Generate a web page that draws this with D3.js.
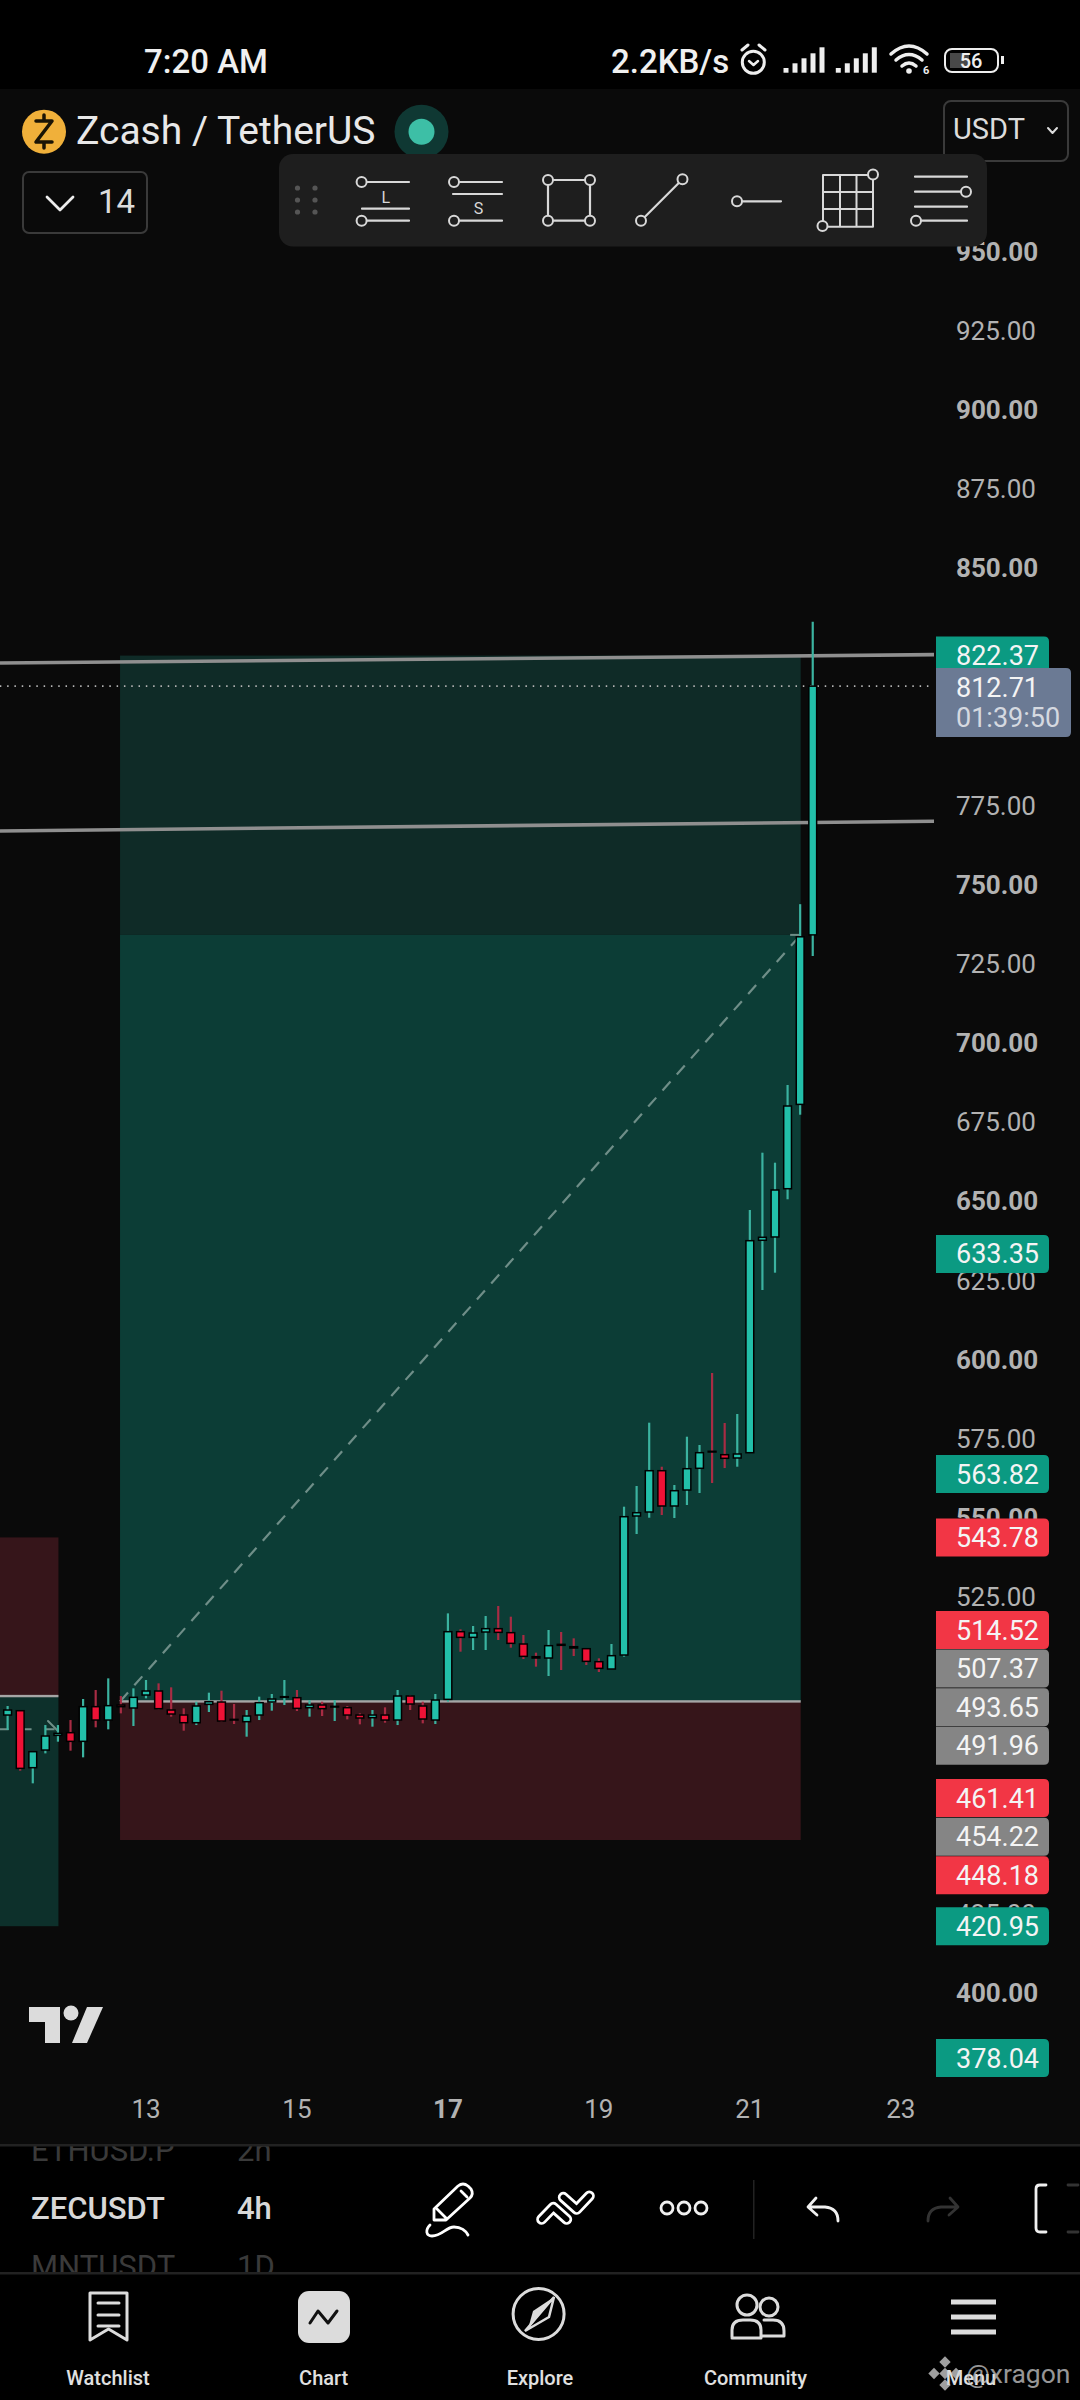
<!DOCTYPE html>
<html>
<head>
<meta charset="utf-8">
<script src="https://cdn.jsdelivr.net/npm/d3@7"></script>
<style>
  html, body { margin: 0; padding: 0; background: #000; }
  svg { display: block; }
  text { font-family: Roboto, sans-serif; }
</style>
</head>
<body>
<div id="chart"></div>
<script>
// 4h candles of ZECUSDT, first one is 11 candles before the 13th
var firstDay = 13 - 11 / 6;
var candleHours = 4;

var opens = [487.66,489.03,471.03,476.6,481.24,482.08,479.35,490.3,486.08,490.82,489.88,
  493.98,495.25,489.24,487.66,485.24,491.03,491.77,486.29,485.56,487.66,491.77,493.25,493.14,
  489.98,490.82,490.19,489.98,487.66,486.82,487.66,486.08,493.67,490.51,486.08,
  492.61,513.99,512.2,513.89,514.94,513.68,510.1,506.09,505.67,509.99,509.25,508.62,504.51,502.2,
  506.62,550.54,551.8,564.85,553.7,558.75,565.61,570.98,569.91,568.87,570.54,637.65,638.69,653.94,680.58,734.13];
var highs = [490.51,489.24,476.08,484.5,484.5,486.08,492.72,495.56,499.25,493.67,496.09,
  498.72,497.67,496.41,489.77,491.88,494.72,495.35,491.14,489.24,493.46,494.3,498.72,495.56,
  492.4,491.88,492.4,490.51,488.19,489.24,490.09,495.56,493.98,491.88,494.3,
  519.78,514.73,515.78,518.94,522.1,518.73,512.94,507.36,514.52,513.89,511.89,508.73,505.57,510.1,
  553.48,560.02,580.02,566.11,560.33,575.59,572.97,595.72,579.92,582.77,647.22,665.32,662.16,686.71,743.83,833.05];
var lows = [482.93,470.08,466.08,475.55,479.24,476.4,474.29,483.77,483.14,488.19,484.19,
  492.93,489.46,487.14,482.71,484.5,488.61,485.45,484.82,480.82,486.08,489.03,490.82,488.93,
  487.14,487.35,485.77,486.29,484.72,483.98,485.24,484.5,489.24,485.03,484.82,
  491.88,507.67,508.2,508.2,511.36,508.94,505.36,502.94,499.99,501.88,506.3,503.46,501.25,502.2,
  506.1,544.85,550,550.86,549.91,554.02,557.81,560.97,565.71,566.11,570.44,621.94,627.41,650.6,677.32,727.49];
var closes = [489.24,470.81,476.08,481.03,481.87,479.35,490.3,486.08,490.62,490.3,493.25,
  495.25,489.67,487.98,485.24,490.51,491.88,485.77,486.08,487.35,491.56,492.72,493.46,489.77,
  490.82,489.67,490.4,487.66,486.72,487.66,486.08,493.67,491.14,486.4,492.4,
  513.99,512.2,513.57,514.94,513.78,510.31,506.2,505.67,509.57,509.68,508.83,504.62,502.41,506.41,
  550.32,551.58,564.85,553.7,558.53,565.48,570.54,570.76,568.77,570.13,637.52,638.59,653.53,680.07,733.53,812.71];

var priceTicks = d3.range(400, 951, 25);
var dayTicks = [13, 15, 17, 19, 21, 23];

// long position drawn on the chart
var longStartDay = 12.656, longEndDay = 21.674;
var longEntry = 491.96, longStop = 448.18, longTarget = 822.37, longReached = 734.13;

// older short position at the left edge
var shortStartDay = 11.06, shortEndDay = 11.84;
var shortEntry = 493.65, shortStop = 543.78, shortTarget = 420.95, shortReached = 483.2;

// two horizontal-ish resistance lines, [day, price]
var upperLine = [[11.066, 820.03], [23.44, 822.66]];
var lowerLine = [[11.066, 766.96], [23.44, 770.05]];
var lineEndDay = 23.44;

var lastPrice = 812.71;
var countdown = "01:39:50";
var tagPrices = [822.37, 633.35, 563.82, 543.78, 514.52, 507.37, 493.65, 491.96, 461.41, 454.22, 448.18, 420.95, 378.04];
var tagKinds = ["up", "up", "up", "down", "down", "flat", "flat", "flat", "down", "flat", "down", "up", "up"];

var tagFill = { up: "#0b9a82", down: "#f23645", flat: "#858585" };
var greenBody = "#22bfa9", redBody = "#ee1236";
var greenWick = "#3bb3a0", redWick = "#a82c44";

var width = 1080, height = 2400;
var svg = d3.select("#chart").append("svg").attr("width", width).attr("height", height);

var x = d3.scaleLinear().domain([13, 23]).range([146, 900.8]);
var y = d3.scaleLinear().domain([400, 950]).range([1992.5, 251.6]);
var lineXY = d3.line().x(function (d) { return x(d[0]); }).y(function (d) { return y(d[1]); });

function rect(g, x0, y0, x1, y1, fill) {
  return g.append("rect").attr("x", x0).attr("y", y0).attr("width", x1 - x0).attr("height", y1 - y0).attr("fill", fill);
}
function label(g, px, py, str, size, fill, weight, anchor) {
  return g.append("text").attr("x", px).attr("y", py).attr("dy", "0.355em")
    .attr("font-size", size).attr("fill", fill).attr("font-weight", weight || 400)
    .attr("text-anchor", anchor || "start").text(str);
}
function stroke(g, d, color, w) {
  return g.append("path").attr("d", d).attr("fill", "none").attr("stroke", color)
    .attr("stroke-width", w || 2).attr("stroke-linecap", "round").attr("stroke-linejoin", "round");
}
function dot(g, cx, cy, r, fill, line, w) {
  return g.append("circle").attr("cx", cx).attr("cy", cy).attr("r", r).attr("fill", fill)
    .attr("stroke", line || "none").attr("stroke-width", w || 0);
}

// backgrounds
rect(svg, 0, 0, width, height, "#000");
rect(svg, 0, 89, width, 2145, "#0a0a0a");

// position zones
var zones = svg.append("g");
rect(zones, x(longStartDay), y(longTarget), x(longEndDay), y(longReached), "#0f2b27");
rect(zones, x(longStartDay), y(longReached), x(longEndDay), y(longEntry), "#0c3d36");
rect(zones, x(longStartDay), y(longEntry), x(longEndDay), y(longStop), "#36151a");
rect(zones, x(shortStartDay), y(shortStop), x(shortEndDay), y(shortEntry), "#36151a");
rect(zones, x(shortStartDay), y(shortEntry), x(shortEndDay), y(shortTarget), "#0d302b");
rect(zones, x(longStartDay), y(longEntry) - 1.2, x(longEndDay), y(longEntry) + 1.2, "#a5a5a5");
rect(zones, x(shortStartDay), y(shortEntry) - 1.2, x(shortEndDay), y(shortEntry) + 1.2, "#a5a5a5");

// dashed path of each position
var dashed = svg.append("g");
dashed.append("path").attr("d", lineXY([[longStartDay, longEntry], [longEndDay, longReached]]))
  .attr("stroke", "#6f8e88").attr("stroke-width", 2.2).attr("stroke-dasharray", "12 9.5").attr("fill", "none");
dashed.append("path").attr("d", lineXY([[longEndDay - 0.14, longReached], [longEndDay, longReached]]))
  .attr("stroke", "#6f8e88").attr("stroke-width", 2).attr("fill", "none");
dashed.append("path").attr("d", lineXY([[shortStartDay, shortReached], [shortEndDay, shortReached]]))
  .attr("stroke", "#6f8e88").attr("stroke-width", 2).attr("stroke-dasharray", "9 14").attr("fill", "none");
stroke(dashed, "M48 1721 L57 1730", "#6f8e88", 2);

// trend lines and last price line
var lines = svg.append("g");
[upperLine, lowerLine].forEach(function (l) {
  lines.append("path").attr("d", lineXY(l)).attr("stroke", "#8f8f8f").attr("stroke-width", 3.6).attr("fill", "none");
});
lines.append("path").attr("d", lineXY([[firstDay - 0.2, lastPrice], [lineEndDay, lastPrice]]))
  .attr("stroke", "#b5b5b5").attr("stroke-width", 1.6).attr("stroke-dasharray", "1.5 5.8").attr("fill", "none");

// candles
var bodyWidth = (x(13 + candleHours / 24) - x(13)) * 0.62;
var candles = svg.append("g").selectAll("g").data(opens).enter().append("g");
function cx(d, i) { return x(firstDay + i * candleHours / 24); }
candles.append("line")
  .attr("x1", cx).attr("x2", cx)
  .attr("y1", function (d, i) { return y(highs[i]); })
  .attr("y2", function (d, i) { return y(lows[i]); })
  .attr("stroke", function (d, i) { return closes[i] >= opens[i] ? greenWick : redWick; })
  .attr("stroke-width", 2.2);
candles.append("rect")
  .attr("x", function (d, i) { return cx(d, i) - bodyWidth / 2; })
  .attr("width", bodyWidth)
  .attr("y", function (d, i) { return y(Math.max(opens[i], closes[i])); })
  .attr("height", function (d, i) { return Math.max(0.6, Math.abs(y(opens[i]) - y(closes[i]))); })
  .attr("fill", function (d, i) { return closes[i] >= opens[i] ? greenBody : redBody; })
  .attr("stroke", "#000").attr("stroke-width", 1.5);

// price axis
var axis = svg.append("g");
priceTicks.forEach(function (p) {
  label(axis, 956, y(p), d3.format(".2f")(p), 26, "#b2b2b2", p % 50 === 0 ? 700 : 400);
});

// axis tags, pushed down when they would overlap
function tagPath(x0, y0, x1, y1, r) {
  return "M" + x0 + " " + y0 + "H" + (x1 - r) + "Q" + x1 + " " + y0 + " " + x1 + " " + (y0 + r) +
    "V" + (y1 - r) + "Q" + x1 + " " + y1 + " " + (x1 - r) + " " + y1 + "H" + x0 + "Z";
}
var tagH = 38, tagGap = 38.6, prevY = -1000;
var tags = svg.append("g");
tagPrices.forEach(function (p, i) {
  var cy = Math.min(Math.max(y(p), prevY + tagGap), 2058);
  prevY = cy;
  tags.append("path").attr("d", tagPath(936, cy - tagH / 2, 1049, cy + tagH / 2, 5)).attr("fill", tagFill[tagKinds[i]]);
  label(tags, 956, cy, d3.format(".2f")(p), 27, "#f4f4f4");
});
tags.append("path").attr("d", tagPath(936, 668, 1071, 737, 5)).attr("fill", "#6b7a94");
label(tags, 956, 687, d3.format(".2f")(lastPrice), 27, "#f4f4f4");
label(tags, 956, 717, countdown, 27, "#d5d9e0");

// time axis
var timeAxis = svg.append("g");
dayTicks.forEach(function (d) {
  label(timeAxis, x(d), 2109, d, 26, "#b2b2b2", d === 17 ? 700 : 400, "middle");
});

// tradingview logo
var logo = svg.append("g").attr("fill", "#dcdcdc");
logo.append("path").attr("d", "M29 2007H60V2043H45V2022H29Z");
dot(logo, 71, 2013, 7.5, "#dcdcdc");
logo.append("path").attr("d", "M87 2007H103L87 2043H72Z");

// status bar
var statusBar = svg.append("g");
label(statusBar, 144, 61, "7:20 AM", 33, "#f0f0f0", 500);
label(statusBar, 611, 61, "2.2KB/s", 33, "#f0f0f0", 500);
stroke(statusBar, "M742 50 L748 45 M765 50 L759 45", "#eee", 3);
dot(statusBar, 753.3, 62.3, 11, "none", "#eee", 3);
stroke(statusBar, "M749 61 L753.5 65 L758 61", "#eee", 2.5);
[786, 838.3].forEach(function (x0) {
  [68, 63.3, 58.3, 53.3, 47.3].forEach(function (barTop, i) {
    rect(statusBar, x0 - 2.5 + i * 9, barTop, x0 + 2.5 + i * 9, 72.7, "#eee");
  });
});
stroke(statusBar, "M891 54 Q909 38 927 54", "#eee", 3.5);
stroke(statusBar, "M896 60 Q909 49 922 60", "#eee", 3.5);
stroke(statusBar, "M902 66 Q909 60 916 66", "#eee", 3.5);
dot(statusBar, 909, 71, 2.8, "#eee");
label(statusBar, 923, 70.5, "6", 11, "#eee", 700);
statusBar.append("rect").attr("x", 945).attr("y", 49).attr("width", 53).attr("height", 23).attr("rx", 7)
  .attr("fill", "none").attr("stroke", "#eee").attr("stroke-width", 2);
rect(statusBar, 950, 53, 969, 68, "#484848");
label(statusBar, 971, 61, "56", 20, "#eee", 500, "middle");
rect(statusBar, 1001, 56, 1004, 64, "#eee");

// symbol header
var header = svg.append("g");
dot(header, 44, 131.7, 22, "#f0b03a");
stroke(header, "M36 121H52L36 142H52 M44 115V121 M44 142V148", "#1a1405", 3.5);
label(header, 76, 130, "Zcash / TetherUS", 39, "#e8e8e8");
dot(header, 421.5, 131.7, 27, "#0f3833");
dot(header, 421.5, 131.7, 13, "#3dbfa6");
header.append("rect").attr("x", 944).attr("y", 101).attr("width", 124).attr("height", 60).attr("rx", 7)
  .attr("fill", "none").attr("stroke", "#3a3a3a").attr("stroke-width", 2);
label(header, 953, 129, "USDT", 29, "#dcdcdc");
stroke(header, "M1048 128 L1052.5 133 L1057 128", "#dcdcdc", 2);
header.append("rect").attr("x", 23).attr("y", 172).attr("width", 124).attr("height", 61).attr("rx", 6)
  .attr("fill", "none").attr("stroke", "#3a3a3a").attr("stroke-width", 2);
stroke(header, "M47 197 L60 210 L73 197", "#eee", 2.8);
label(header, 98, 201, "14", 33, "#dcdcdc");

// floating drawing toolbar
var tools = svg.append("g");
tools.append("rect").attr("x", 279).attr("y", 154).attr("width", 708).attr("height", 92.5).attr("rx", 14).attr("fill", "#1e1e1e");
[297.5, 315].forEach(function (px) {
  [188, 200, 212].forEach(function (py) { dot(tools, px, py, 2.6, "#555"); });
});
var ink = "#d8d8d8";
function knob(px, py) { dot(tools, px, py, 5, "#1e1e1e", ink, 2); }
stroke(tools, "M367 182H409 M362 208.7H409 M367 220.7H409", ink, 2.2);
knob(361.6, 182); knob(361.6, 220.7);
label(tools, 385.7, 197, "L", 16, ink, 400, "middle");
stroke(tools, "M459 182H502 M453 194H502 M459 220.7H502", ink, 2.2);
knob(454, 182); knob(454, 220.7);
label(tools, 478.6, 208, "S", 16, ink, 400, "middle");
stroke(tools, "M548 180H590 V220.7 H548 Z", ink, 2.2);
knob(548, 180); knob(590, 180); knob(548, 220.7); knob(590, 220.7);
stroke(tools, "M641 220.7 L682.5 179.3", ink, 2.2);
knob(641, 220.7); knob(682.5, 179.3);
stroke(tools, "M737 201.3H781", ink, 2.2);
knob(737, 201.3);
stroke(tools, "M823 175H873V226.7H823Z M840 175V226.7 M856.5 175V226.7 M823 192H873 M823 209H873", ink, 2);
knob(873, 174.5); knob(822.5, 226);
stroke(tools, "M915 176.7H967 M915 191.7H966 M915 206.7H967 M916 220.7H967", ink, 2.2);
knob(966, 191.7); knob(916, 220.7);

// symbol list and chart tools at the bottom
var bottom = svg.append("g");
rect(bottom, 0, 2145, width, 2400, "#000");
var clip = svg.append("defs").append("clipPath").attr("id", "listClip");
clip.append("rect").attr("x", 0).attr("y", 2146).attr("width", 400).attr("height", 126);
var list = bottom.append("g").attr("clip-path", "url(#listClip)");
label(list, 31, 2150, "ETHUSD.P", 31, "#3a3a3a");
label(list, 237, 2150, "2h", 31, "#3a3a3a");
label(list, 31, 2208, "ZECUSDT", 31, "#d8d8d8", 500);
label(list, 237, 2208, "4h", 31, "#d8d8d8", 500);
label(list, 31, 2266, "MNTUSDT", 31, "#3a3a3a");
label(list, 237, 2266, "1D", 31, "#3a3a3a");
rect(bottom, 0, 2144, width, 2146.5, "#222");
rect(bottom, 0, 2272, width, 2274.5, "#222");

stroke(bottom, "M434 2220V2209L458 2186Q463 2182 468 2186L471 2189Q474 2194 470 2198L446 2220Z M437 2209L446 2218 M461 2191L467 2197", "#fff", 2.8);
stroke(bottom, "M430 2225C425 2230 426 2236 432 2236C442 2236 446 2227 454 2227C461 2227 466 2231 468 2235", "#fff", 2.8);
var zig1 = "M541.7 2219.3L553.3 2207.3L566.7 2219.3", zig2 = "M563.3 2197.3L576.7 2209.3L589.3 2196";
stroke(bottom, zig1, "#fff", 11); stroke(bottom, zig2, "#fff", 11);
stroke(bottom, zig1, "#000", 5.4); stroke(bottom, zig2, "#000", 5.4);
[667, 684, 701].forEach(function (px) { dot(bottom, px, 2208, 6, "none", "#f0f0f0", 2.8); });
rect(bottom, 753, 2180, 754.5, 2239, "#222");
stroke(bottom, "M816 2198L808 2207L817 2215 M809 2207H825Q838 2208 838 2221", "#f0f0f0", 2.8);
stroke(bottom, "M950 2198L958 2207L949 2215 M957 2207H941Q928 2208 928 2221", "#333", 2.8);
stroke(bottom, "M1046 2185H1040Q1036 2185 1036 2189V2228Q1036 2232 1040 2232H1046", "#f0f0f0", 2.8);
stroke(bottom, "M1068 2185H1078 M1068 2232H1078", "#333", 2.8);

// navigation bar
var nav = svg.append("g");
var navLabels = ["Watchlist", "Chart", "Explore", "Community", "Menu"];
var navX = [108, 323.7, 540, 755.5, 971];
navLabels.forEach(function (t, i) { label(nav, navX[i], 2378, t, 20, "#e0e0e0", 500, "middle"); });
var navInk = "#dcdcdc";
stroke(nav, "M90 2293H127V2340L108.5 2329L90 2340Z", navInk, 3);
stroke(nav, "M98 2303H119 M98 2315H119 M98 2326H119", navInk, 3);
nav.append("rect").attr("x", 298).attr("y", 2291).attr("width", 52).attr("height", 52).attr("rx", 11).attr("fill", navInk);
stroke(nav, "M310 2323L318 2311L328 2323L337 2311", "#111", 3);
dot(nav, 538.6, 2314, 25.5, "none", navInk, 3);
nav.append("path").attr("d", "M554 2297L528 2329L533 2311Z").attr("fill", navInk);
nav.append("path").attr("d", "M554 2297L549 2317L525 2331Z").attr("fill", "none").attr("stroke", navInk).attr("stroke-width", 2.5);
dot(nav, 747, 2305, 10, "none", navInk, 3);
dot(nav, 769, 2307, 9, "none", navInk, 3);
stroke(nav, "M732 2337V2330Q732 2320 743 2320H750Q761 2320 761 2330V2338H732", navInk, 3);
stroke(nav, "M764 2320H773Q784 2320 784 2331V2336H762", navInk, 3);
[2302, 2317, 2332].forEach(function (py) { rect(nav, 951, py - 2.5, 996, py + 2.5, navInk); });

// watermark
var mark = svg.append("g").attr("opacity", 0.75);
label(mark, 966, 2374, "@xragon", 26.5, "#c8c8c8");
[[945, 2362], [945, 2385], [934, 2373.5], [956, 2373.5], [945, 2373.5]].forEach(function (c) {
  mark.append("rect").attr("x", c[0] - 4).attr("y", c[1] - 4).attr("width", 8).attr("height", 8)
    .attr("fill", "#d4d4d4").attr("transform", "rotate(45 " + c[0] + " " + c[1] + ")");
});
</script>
</body>
</html>
